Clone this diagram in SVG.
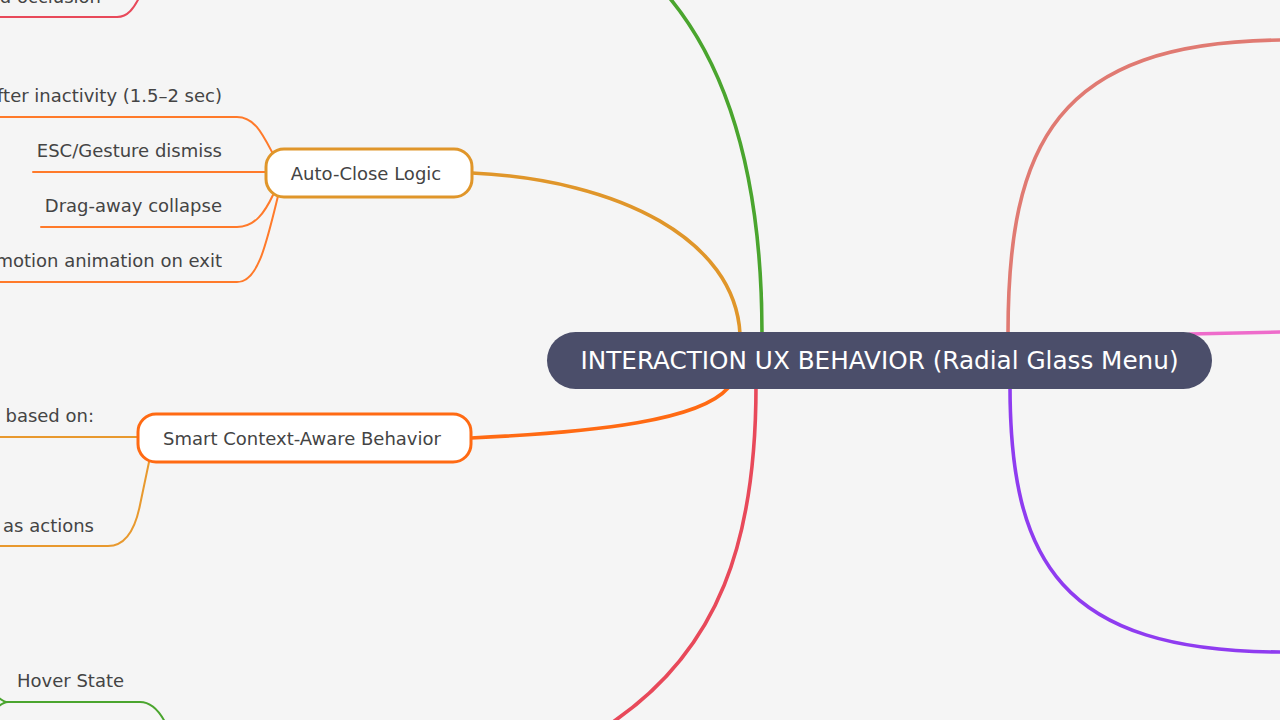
<svg xmlns="http://www.w3.org/2000/svg" width="1280" height="720" viewBox="0 0 1280 720">
<defs>
<style>
.bg{fill:#f5f5f5}
.main{fill:none;stroke-width:3.6;stroke-linecap:round}
.sub{fill:none;stroke-width:2;stroke-linecap:round}
.node{fill:#ffffff;stroke-width:3}
.t{font-family:"DejaVu Sans","Verdana",sans-serif;font-size:18px;fill:#444444}
.root{font-family:"DejaVu Sans","Verdana",sans-serif;font-size:24.7px;fill:#ffffff}
</style>
</defs>
<rect class="bg" x="0" y="0" width="1280" height="720"/>
<g id="connectors">
<path class="main" stroke="#4aa52e" d="M668,-4 C730,70 762,180 762,334"/>
<path class="main" stroke="#e0962a" d="M472,173 C620,180 735,240 740,334"/>
<path class="main" stroke="#ff6a13" d="M471,438 C600,432 700,420 728,388"/>
<path class="main" stroke="#e8495a" d="M756,386 C756,540 720,650 610,724"/>
<path class="main" stroke="#e07a72" d="M1008,334 C1008,145 1055,42 1282,40"/>
<path class="main" stroke="#8f3cf0" d="M1010,386 C1010,560 1060,652 1282,652"/>
<path class="main" stroke="#ee6ccb" d="M1190,334 L1282,332"/>
<path class="sub" stroke="#e8495a" d="M-10,17 L117,17 C128,17 134,8 140,-4"/>
<path class="sub" stroke="#ff7a2a" d="M-10,117 L237,117 C254,117 262,133 272,152"/>
<path class="sub" stroke="#ff7a2a" d="M33,172 L266,172"/>
<path class="sub" stroke="#ff7a2a" d="M41,227 L237,227 C255,227 265,212 273,195"/>
<path class="sub" stroke="#ff7a2a" d="M-10,282 L237,282 C258,282 266,245 278,196"/>
<path class="sub" stroke="#e8992e" d="M-10,437 L137,437"/>
<path class="sub" stroke="#e8992e" d="M-10,546 L108,546 C128,546 136,525 140,505 L149,462"/>
<path class="sub" stroke="#4aa52e" d="M8,702 L140,702 C152,702 160,712 166,724"/>
<path class="sub" stroke="#4aa52e" d="M8,702 C4,702 1,700 -3,696"/>
<path class="sub" stroke="#4aa52e" d="M8,702 C4,702 1,704 -3,708"/>
</g>
<g id="root">
<rect x="547" y="332" width="665" height="57" rx="28.5" fill="#4b4e6a"/>
<text class="root" x="879.5" y="369" text-anchor="middle">INTERACTION UX BEHAVIOR (Radial Glass Menu)</text>
</g>
<g id="auto-close">
<rect class="node" stroke="#e0962a" x="266" y="149" width="206" height="48" rx="18"/>
<text class="t" x="366" y="180" text-anchor="middle">Auto-Close Logic</text>
</g>
<g id="smart-context">
<rect class="node" stroke="#ff6a13" x="138" y="414" width="333" height="48" rx="18"/>
<text class="t" x="302" y="445" text-anchor="middle">Smart Context-Aware Behavior</text>
</g>
<g id="occlusion"><text class="t" x="101" y="3" text-anchor="end">d occlusion</text></g>
<g id="inactivity"><text class="t" x="222" y="102" text-anchor="end">fter inactivity (1.5–2 sec)</text></g>
<g id="esc"><text class="t" x="222" y="157" text-anchor="end">ESC/Gesture dismiss</text></g>
<g id="drag"><text class="t" x="222" y="212" text-anchor="end">Drag-away collapse</text></g>
<g id="motion"><text class="t" x="222" y="267" text-anchor="end">motion animation on exit</text></g>
<g id="based"><text class="t" x="94" y="422" text-anchor="end">based on:</text></g>
<g id="actions"><text class="t" x="94" y="532" text-anchor="end">as actions</text></g>
<g id="hover"><text class="t" x="17" y="687">Hover State</text></g>
</svg>
